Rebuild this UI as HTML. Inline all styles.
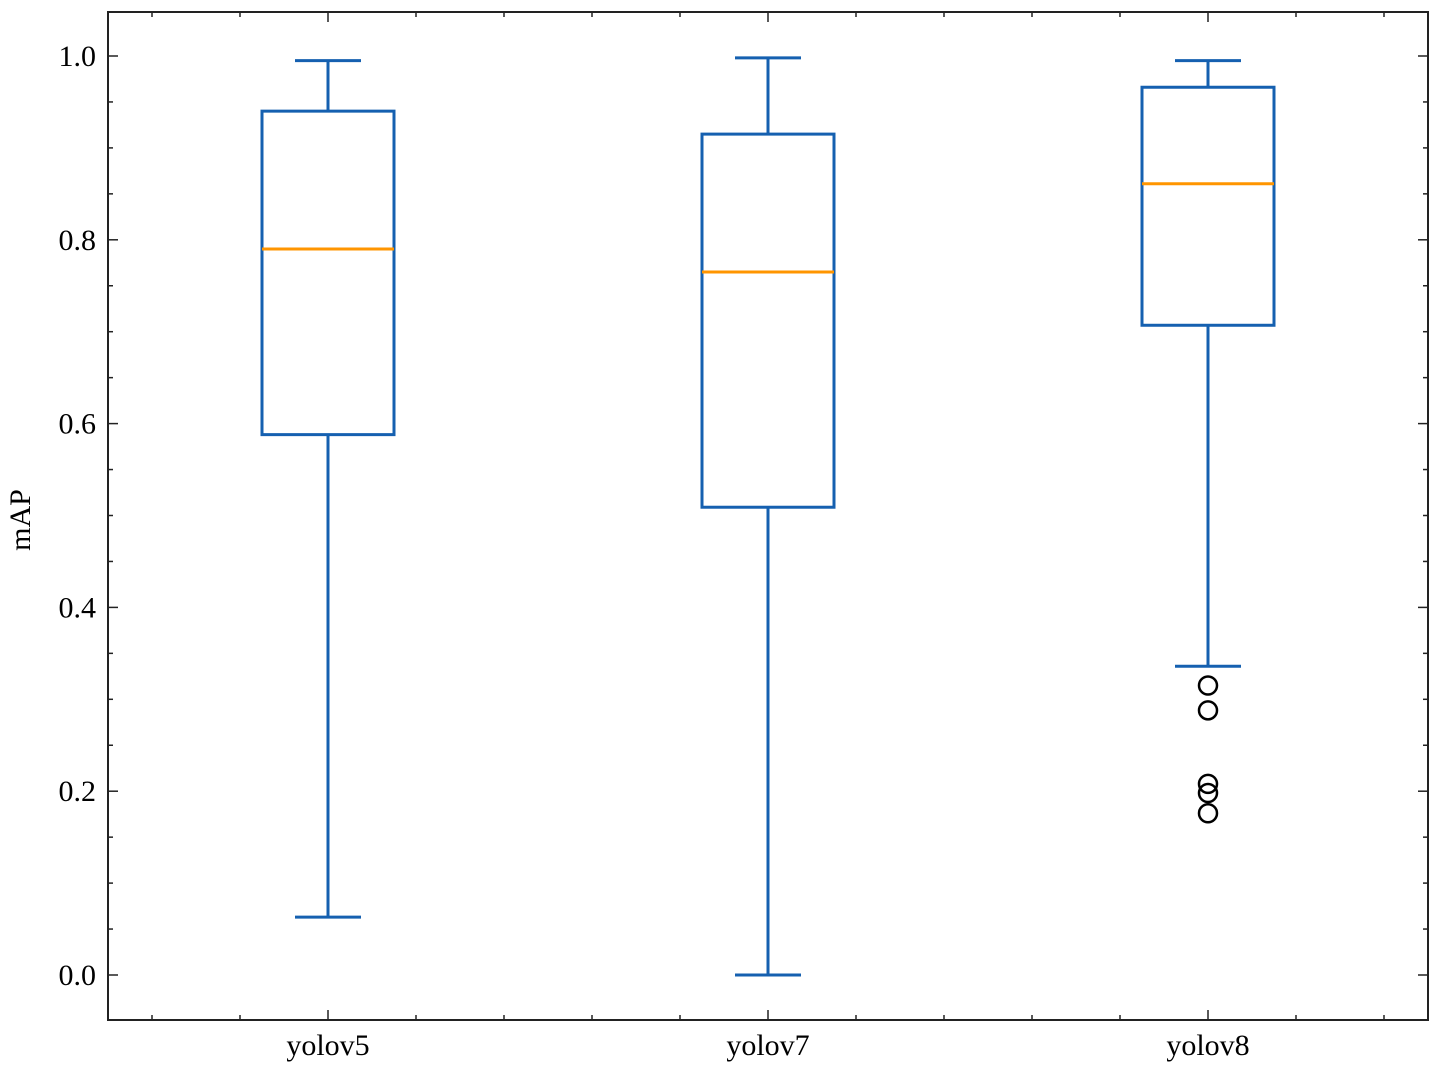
<!DOCTYPE html>
<html><head><meta charset="utf-8"><style>
html,body{margin:0;padding:0;background:#fff;}
svg{display:block;font-family:"Liberation Serif",serif;}
</style></head><body>
<svg id="chart" width="1440" height="1074">
<rect x="108" y="12" width="1320" height="1008" fill="#fff" stroke="#222" stroke-width="2"/>
<g id="axes"></g>
<g id="boxes"></g>
<text x="30" y="520" font-size="30" text-anchor="middle" transform="rotate(-90 30 520)">mAP</text>
</svg>
<script>
const categories=["yolov5","yolov7","yolov8"];
const whiskerLow=[0.063,0.0,0.336];
const q1=[0.588,0.509,0.707];
const medians=[0.79,0.765,0.861];
const q3=[0.94,0.915,0.966];
const whiskerHigh=[0.995,0.998,0.995];
const outliers=[[],[],[0.315,0.288,0.208,0.198,0.176]];
const yTicks=[0.0,0.2,0.4,0.6,0.8,1.0];
const yTickLabels=["0.0","0.2","0.4","0.6","0.8","1.0"];

const NS="http://www.w3.org/2000/svg";
const L=108,R=1428,T=12,B=1020;
const y=v=>975-919*v;
const x=i=>328+440*i;
function mk(tag,attrs,parent){const e=document.createElementNS(NS,tag);for(const k in attrs)e.setAttribute(k,attrs[k]);parent.appendChild(e);return e;}
const ax=document.getElementById('axes');
for(let v=-0.05;v<=1.06;v+=0.05){
  const vv=Math.round(v*100)/100;const yy=y(vv);if(yy<T||yy>B)continue;
  const major=Math.abs(vv*10-Math.round(vv*10))<1e-6&&Math.round(vv*10)%2===0;
  const len=major?10:5;
  const t1=mk('line',{x1:L,x2:L+len,y1:yy,y2:yy,stroke:'#222','stroke-width':1.5},ax);
  
  
  const t2=mk('line',{x1:R,x2:R-len,y1:yy,y2:yy,stroke:'#222','stroke-width':1.5},ax);
  
  
}
yTicks.forEach((v,i)=>{
  const t=mk('text',{x:96,y:y(v)+10,'font-size':30,'text-anchor':'end'},ax);
  t.textContent=yTickLabels[i];
  
  
});
for(let k=-2;k<=12;k++){
  const xx=328+88*k;if(xx<=L||xx>=R)continue;
  const major=k%5===0;const len=major?10:5;
  const a=mk('line',{x1:xx,x2:xx,y1:B,y2:B-len,stroke:'#222','stroke-width':1.5},ax);
  
  
  const b=mk('line',{x1:xx,x2:xx,y1:T,y2:T+len,stroke:'#222','stroke-width':1.5},ax);
  
  
}
categories.forEach((c,i)=>{
  const t=mk('text',{x:x(i),y:1055,'font-size':30,'text-anchor':'middle'},ax);
  t.textContent=c;
  
  
});
const bx=document.getElementById('boxes');
const blue='#1560b0',orange='#ff9500';
categories.forEach((c,i)=>{
  const g=mk('g',{},bx);
  
  
  const cx=x(i),hw=66,cap=33;
  const s={stroke:blue,'stroke-width':3,fill:'none'};
  mk('line',Object.assign({x1:cx,x2:cx,y1:y(q3[i]),y2:y(whiskerHigh[i])},s),g);
  mk('line',Object.assign({x1:cx,x2:cx,y1:y(q1[i]),y2:y(whiskerLow[i])},s),g);
  mk('line',Object.assign({x1:cx-cap,x2:cx+cap,y1:y(whiskerHigh[i]),y2:y(whiskerHigh[i])},s),g);
  mk('line',Object.assign({x1:cx-cap,x2:cx+cap,y1:y(whiskerLow[i]),y2:y(whiskerLow[i])},s),g);
  mk('rect',Object.assign({x:cx-hw,y:y(q3[i]),width:2*hw,height:y(q1[i])-y(q3[i])},s),g);
  mk('line',{x1:cx-hw,x2:cx+hw,y1:y(medians[i]),y2:y(medians[i]),stroke:orange,'stroke-width':3},g);
  outliers[i].forEach(v=>{
    const o=mk('circle',{cx:cx,cy:y(v),r:9,fill:'none',stroke:'#000','stroke-width':2.5},g);
    
    
  });
});
</script>
</body></html>
